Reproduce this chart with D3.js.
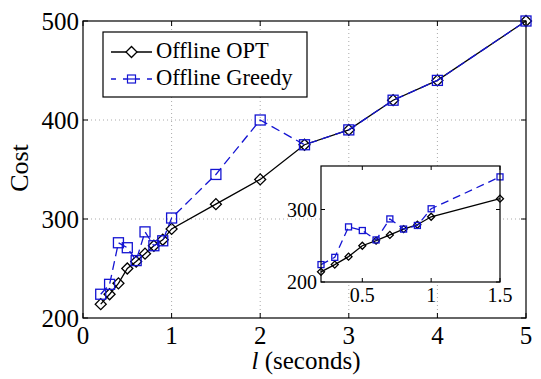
<!DOCTYPE html>
<html>
<head>
<meta charset="utf-8">
<script src="https://cdn.jsdelivr.net/npm/d3@7"></script>
<style>
  body { margin: 0; background: #fff; }
  svg { display: block; }
</style>
</head>
<body>
<svg id="chart" width="541" height="379"></svg>
<script>
// donnees
const longueurs = [0.2, 0.3, 0.4, 0.5, 0.6, 0.7, 0.8, 0.9, 1.0, 1.5, 2, 2.5, 3, 3.5, 4, 5];
const coutOPT    = [214, 224, 235, 250, 257, 265, 273, 279, 290, 315, 340, 375, 390, 420, 440, 500];
const coutGreedy = [224, 234, 276, 271, 258, 287, 273, 278, 301, 345, 400, 375, 390, 420, 440, 500];
const xTicks = [0, 1, 2, 3, 4, 5];
const yTicks = [200, 300, 400, 500];
const xTicksZoom = [0.5, 1, 1.5];
const yTicksZoom = [200, 300];
const nomsSeries = ["Offline OPT", "Offline Greedy"];

const police = "Liberation Serif";
const bleu = "#1414d2";
const svg = d3.select("#chart");

const x = d3.scaleLinear().domain([0, 5]).range([83, 526]);
const y = d3.scaleLinear().domain([200, 500]).range([318, 21]);

const ptsOPT = longueurs.map((l, i) => ({ x: l, y: coutOPT[i] }));
const ptsGreedy = longueurs.map((l, i) => ({ x: l, y: coutGreedy[i] }));

function texte(g, taille) {
    return g.append("text").attr("font-family", police).attr("font-size", taille).attr("fill", "#000");
}

// grille pointillee
const grille = svg.append("g");
grille.selectAll(".gx").data(xTicks.slice(1, -1)).enter().append("line")
    .attr("x1", d => x(d)).attr("x2", d => x(d))
    .attr("y1", y(200)).attr("y2", y(500))
    .attr("stroke", "#aaa").attr("stroke-dasharray", "1,3");
grille.selectAll(".gy").data(yTicks.slice(1, -1)).enter().append("line")
    .attr("y1", d => y(d)).attr("y2", d => y(d))
    .attr("x1", x(0)).attr("x2", x(5))
    .attr("stroke", "#aaa").attr("stroke-dasharray", "1,3");

function dessineAxes(g, sx, sy, tx, ty, taille, tick, decal) {
    const [x0, x1] = sx.range();
    const [y0, y1] = sy.range();
    g.append("rect").attr("x", x0).attr("y", y1).attr("width", x1 - x0).attr("height", y0 - y1)
        .attr("fill", "none").attr("stroke", "#000").attr("stroke-width", 1.2);
    tx.forEach(d => {
        g.append("line").attr("x1", sx(d)).attr("x2", sx(d)).attr("y1", y0).attr("y2", y0 - tick).attr("stroke", "#000");
        g.append("line").attr("x1", sx(d)).attr("x2", sx(d)).attr("y1", y1).attr("y2", y1 + tick).attr("stroke", "#000");
        texte(g, taille).attr("x", sx(d)).attr("y", y0 + decal)
            .attr("text-anchor", "middle").text(d);
    });
    ty.forEach(d => {
        g.append("line").attr("y1", sy(d)).attr("y2", sy(d)).attr("x1", x0).attr("x2", x0 + tick).attr("stroke", "#000");
        g.append("line").attr("y1", sy(d)).attr("y2", sy(d)).attr("x1", x1).attr("x2", x1 - tick).attr("stroke", "#000");
        texte(g, taille).attr("x", x0 - 4).attr("y", sy(d)).attr("dy", "0.35em")
            .attr("text-anchor", "end").text(d);
    });
}

function dessineSeries(g, sx, sy, pts1, pts2, tDiam, tCarre, dash) {
    const ligne = d3.line().x(d => sx(d.x)).y(d => sy(d.y));
    g.append("path").datum(pts1).attr("d", ligne)
        .attr("fill", "none").attr("stroke", "#000").attr("stroke-width", 1.3);
    g.selectAll(".opt").data(pts1).enter().append("path")
        .attr("d", d3.symbol(d3.symbolSquare, tDiam * tDiam / 2)())
        .attr("transform", d => `translate(${sx(d.x)},${sy(d.y)}) rotate(45)`)
        .attr("fill", "none").attr("stroke", "#000").attr("stroke-width", 1.3);
    g.append("path").datum(pts2).attr("d", ligne)
        .attr("fill", "none").attr("stroke", bleu).attr("stroke-width", 1.3)
        .attr("stroke-dasharray", dash);
    g.selectAll(".gr").data(pts2).enter().append("rect")
        .attr("x", d => sx(d.x) - tCarre / 2).attr("y", d => sy(d.y) - tCarre / 2)
        .attr("width", tCarre).attr("height", tCarre)
        .attr("fill", "none").attr("stroke", bleu).attr("stroke-width", 1.3);
}

const principal = svg.append("g");
dessineAxes(principal, x, y, xTicks, yTicks, 25, 5, 26);
dessineSeries(principal, x, y, ptsOPT, ptsGreedy, 11, 10, "9,5");

// titres des axes
texte(svg, 26).attr("transform", "translate(28,168) rotate(-90)")
    .attr("text-anchor", "middle").text("Cost");
const titreX = texte(svg, 25).attr("x", 306).attr("y", 369)
    .attr("text-anchor", "middle");
titreX.append("tspan").attr("font-style", "italic").text("l");
titreX.append("tspan").text(" (seconds)");

// legende
const leg = svg.append("g");
leg.append("rect").attr("x", 103).attr("y", 32).attr("width", 204).attr("height", 65)
    .attr("fill", "#fff").attr("stroke", "#000").attr("stroke-width", 1.2);
[52, 79].forEach((ly, i) => {
    leg.append("line").attr("x1", 111).attr("x2", 152).attr("y1", ly).attr("y2", ly)
        .attr("stroke", i ? bleu : "#000").attr("stroke-width", 1.3)
        .attr("stroke-dasharray", i ? "5,7" : null);
    if (i === 0) {
        leg.append("path").attr("d", d3.symbol(d3.symbolSquare, 60)())
            .attr("transform", `translate(131.5,${ly}) rotate(45)`)
            .attr("fill", "#fff").attr("stroke", "#000").attr("stroke-width", 1.3);
    } else {
        leg.append("rect").attr("x", 127.5).attr("y", ly - 4).attr("width", 8).attr("height", 8)
            .attr("fill", "#fff").attr("stroke", bleu).attr("stroke-width", 1.2);
        leg.append("line").attr("x1", 127.5).attr("x2", 135.5).attr("y1", ly).attr("y2", ly)
            .attr("stroke", bleu).attr("stroke-width", 1.2);
    }
    texte(leg, 22.5).attr("x", 156).attr("y", ly).attr("dy", "0.28em")
        .text(nomsSeries[i]);
});

// encart zoom
const xz = d3.scaleLinear().domain([0.2, 1.5]).range([321, 500]);
const yz = d3.scaleLinear().domain([200, 360]).range([282, 166]);
const encart = svg.append("g");
encart.append("rect").attr("x", 321).attr("y", 166).attr("width", 179).attr("height", 116).attr("fill", "#fff");
const ptsZ = (arr) => arr.filter(d => d.x <= 1.5);
dessineSeries(encart, xz, yz, ptsZ(ptsOPT), ptsZ(ptsGreedy), 7, 6, "8,5");
dessineAxes(encart, xz, yz, xTicksZoom, yTicksZoom, 20, 4, 20);
</script>
</body>
</html>
